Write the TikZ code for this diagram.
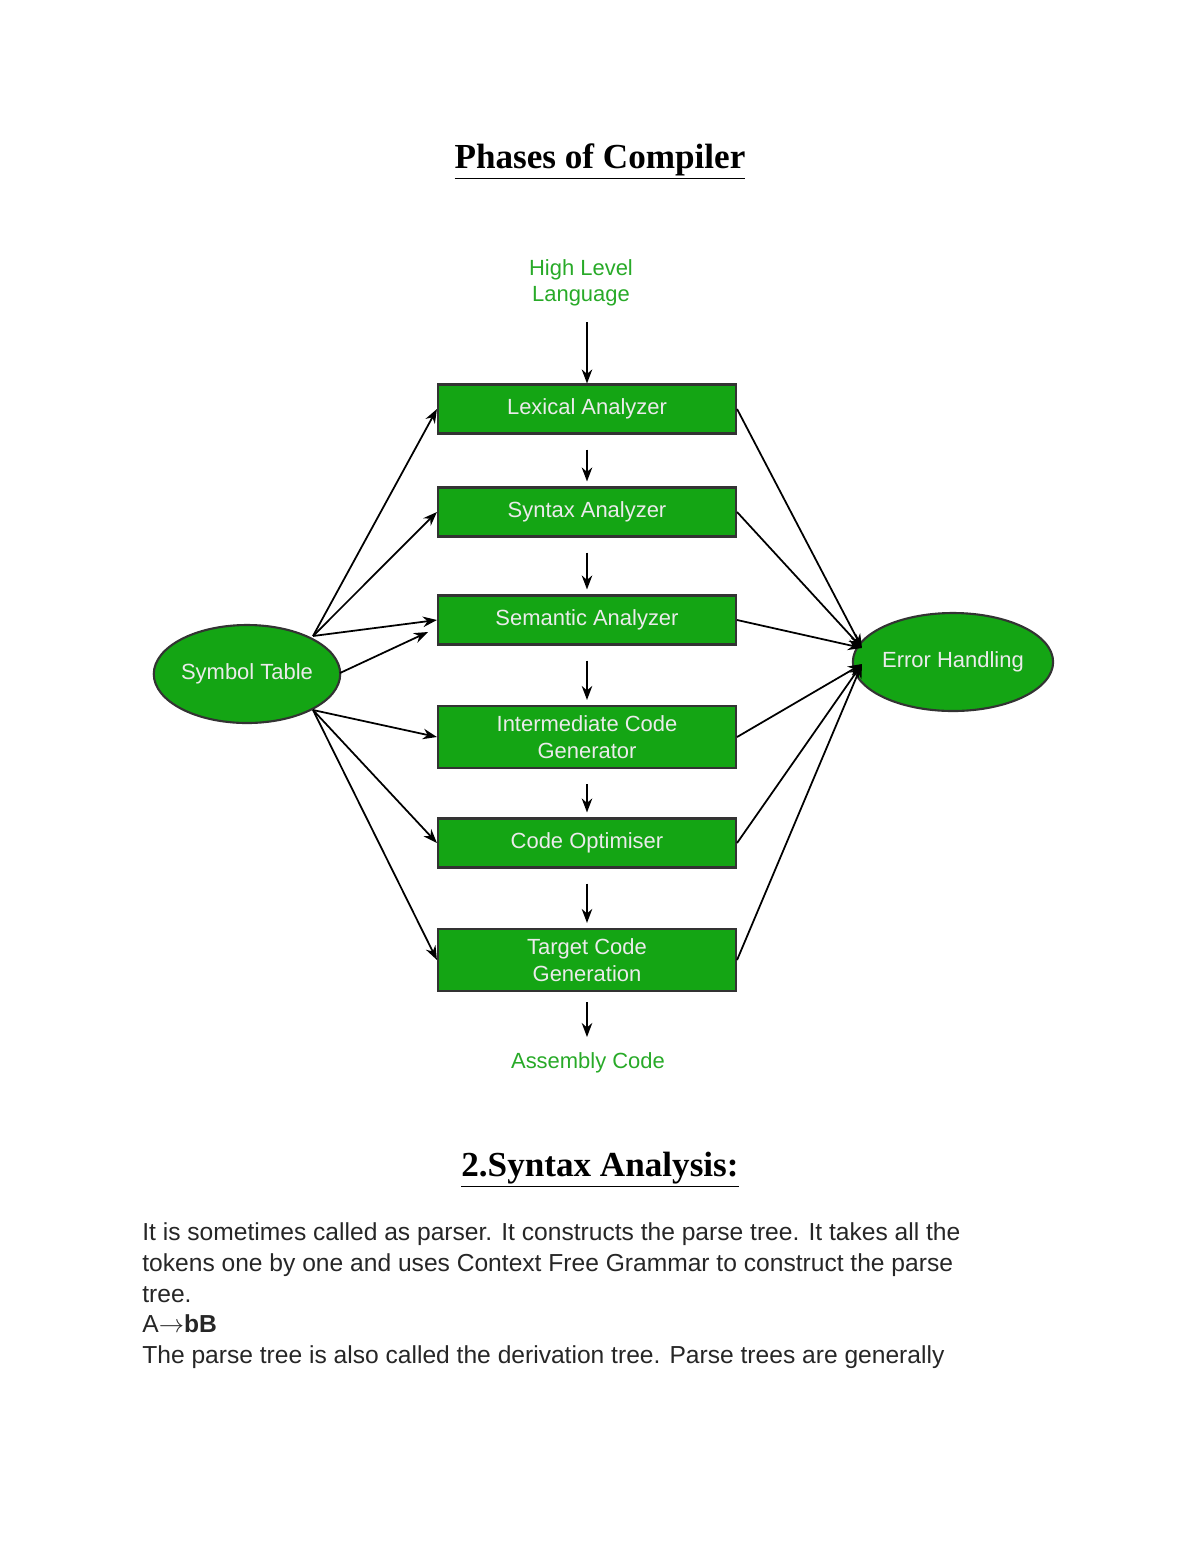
\documentclass[tikz,border=0pt]{standalone}
\usepackage{fontspec}
\setmainfont{Liberation Serif}
\newfontfamily\sansf{Liberation Sans}
\usetikzlibrary{shapes.geometric,arrows.meta}
\definecolor{gfill}{RGB}{20,165,20}
\definecolor{gtext}{RGB}{40,170,40}
\definecolor{btext}{RGB}{235,235,235}
\begin{document}
\begin{tikzpicture}[x=0.02cm,y=-0.02cm,
 box/.style={draw=black!80,line width=1.2pt,fill=gfill,minimum width=298*0.02cm,text=btext,font=\sansf\fontsize{12.5}{15}\selectfont,align=center,inner sep=0},
 ell/.style={ellipse,draw=black!80,line width=1.2pt,fill=gfill,minimum width=186*0.02cm,minimum height=98*0.02cm,text=btext,font=\sansf\fontsize{12.5}{15}\selectfont,inner sep=0},
 lbl/.style={text=gtext,font=\sansf\fontsize{12.5}{15}\selectfont,align=center},
 arr/.style={-{Stealth[length=8pt,width=6pt]},line width=1pt},
 para/.style={anchor=base west,inner sep=0,font=\sansf\fontsize{14}{17}\selectfont,text=black!85}]
\useasboundingbox (0,0) rectangle (1200,1553);
\node[font=\bfseries\fontsize{20}{24}\selectfont] (title) at (600,162) {\underline{Phases of Compiler}};
\node[lbl] (hll) at (581,283) {High Level\\Language};
\node[box,minimum height=49*0.02cm] (lex) at (587,409) {Lexical Analyzer};
\node[box,minimum height=49*0.02cm] (syn) at (587,512) {Syntax Analyzer};
\node[box,minimum height=49*0.02cm] (sem) at (587,620) {Semantic Analyzer};
\node[box,minimum height=62*0.02cm] (icg) at (587,737) {Intermediate Code\\Generator};
\node[box,minimum height=49*0.02cm] (opt) at (587,843) {Code Optimiser};
\node[box,minimum height=62*0.02cm] (tcg) at (587,960) {Target Code\\Generation};
\node[lbl] (asm) at (588,1063) {Assembly Code};
\node[ell] (sym) at (247,674) {Symbol Table};
\node[ell] (err) at (953,662) {Error Handling};
\coordinate (a0) at (587,322);
\draw[arr] (a0) -- (lex.north);
\foreach \u/\v in {lex/syn,syn/sem,sem/icg,icg/opt,opt/tcg}{
  \draw[arr] ([yshift=-0.3cm]\u.south) -- ([yshift=0.1cm]\v.north);}
\coordinate (a1) at (587,1037);
\draw[arr] ([yshift=-0.2cm]tcg.south) -- (a1);
% left
\coordinate (sU) at (313,636); \coordinate (sM) at (340,673); \coordinate (sD) at (313,710);
\draw[arr] (sU) -- (lex.west);
\draw[arr] (sU) -- (syn.west);
\draw[arr] (sU) -- (sem.west);
\draw[arr] (sM) -- (428,632);
\draw[arr] (sD) -- (icg.west);
\draw[arr] (sD) -- (opt.west);
\draw[arr] (sD) -- (tcg.west);
% right
\coordinate (eU) at (862,648); \coordinate (eD) at (862,664);
\draw[arr] (lex.east) -- (eU);
\draw[arr] (syn.east) -- (eU);
\draw[arr] (sem.east) -- (eU);
\draw[arr] (icg.east) -- (eD);
\draw[arr] (opt.east) -- (eD);
\draw[arr] (tcg.east) -- (eD);
\node[font=\bfseries\fontsize{20}{24}\selectfont] (h2) at (600,1170) {\underline{2.Syntax Analysis:}};
\node[para] (p1) at (142,1240) {It is sometimes called as parser. It constructs the parse tree. It takes all the};
\node[para] (p2) at (142,1271) {tokens one by one and uses Context Free Grammar to construct the parse};
\node[para] (p3) at (142,1302) {tree.};
\node[para] (p4) at (142,1332) {A$\rightarrow$\textbf{bB}};
\node[para] (p5) at (142,1363) {The parse tree is also called the derivation tree. Parse trees are generally};
\end{tikzpicture}
\end{document}
